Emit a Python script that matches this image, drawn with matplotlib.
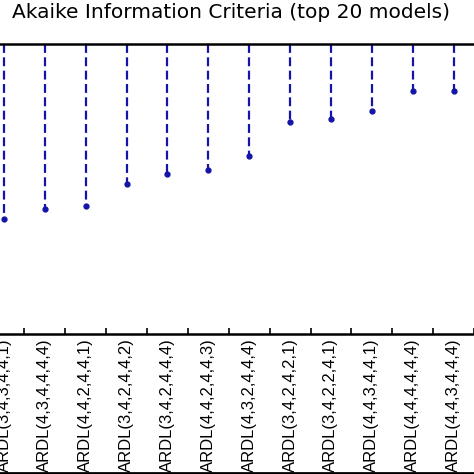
import numpy as np
import matplotlib
matplotlib.use("Agg")
import matplotlib.pyplot as plt
from matplotlib.lines import Line2D

# models shown in this part of the chart (left to right)
models = ["ARDL(3,4,3,4,4,1)", "ARDL(4,3,4,4,4,4)", "ARDL(4,4,2,4,4,1)",
          "ARDL(3,4,2,4,4,2)", "ARDL(3,4,2,4,4,4)", "ARDL(4,4,2,4,4,3)",
          "ARDL(4,3,2,4,4,4)", "ARDL(3,4,2,4,2,1)", "ARDL(3,4,2,2,4,1)",
          "ARDL(4,4,3,4,4,1)", "ARDL(4,4,4,4,4,4)", "ARDL(4,4,3,4,4,4)"]
# AIC values (estimated, y axis is cut off in the picture)
aic = [-6.873, -6.823, -6.808, -6.702, -6.652, -6.632,
       -6.562, -6.391, -6.376, -6.336, -6.236, -6.236]
baseline = -6.0

x = np.arange(len(models))
blue = "#1414a8"

fig = plt.figure(figsize=(4.74, 4.74), dpi=100)
ax = fig.add_axes([0, 1 - 334/474, 1, (334 - 44)/474])

markerline, stemlines, base = ax.stem(x, aic, bottom=baseline)
plt.setp(stemlines, color=blue, linestyle=(0, (4, 2)), linewidth=1.6)
plt.setp(markerline, color=blue, marker="o", markersize=3.5)
base.set_visible(False)

ax.set_xlim(-4/40.9, 470/40.9)
ax.set_ylim(-7.45, baseline)

# ticks sit between the models, labels under each stem
ax.set_xticks(x + 0.5)
ax.set_xticklabels([])
ax.tick_params(axis="x", which="major", direction="in", length=4, width=1.2)
ax.set_xticks(x, minor=True)
ax.set_xticklabels(models, minor=True, rotation=90, fontsize=12,
                   family="Liberation Sans", va="top", ha="center")
ax.tick_params(axis="x", which="minor", length=0, pad=3)
ax.set_yticks([])

for side in ["left", "right"]:
    ax.spines[side].set_visible(False)
for side in ["top", "bottom"]:
    ax.spines[side].set_linewidth(1.8)

fig.text(12/474, 1 - 13/474, "Akaike Information Criteria (top 20 models)",
         fontsize=14.5, family="DejaVu Sans", ha="left", va="center")

# frame line at the bottom edge of the picture
fig.add_artist(Line2D([0, 1], [1 - 472.5/474] * 2, color="black", linewidth=2))

fig.savefig("out.png", dpi=100, facecolor="white")
